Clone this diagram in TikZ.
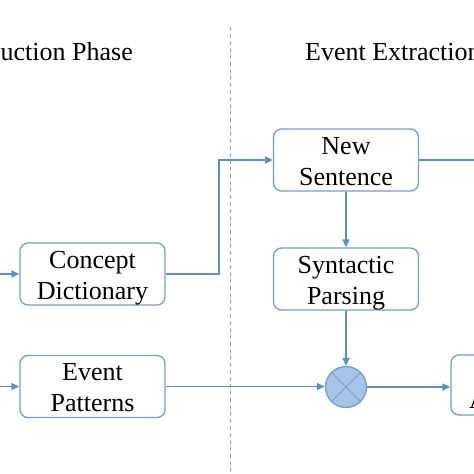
\documentclass[tikz,border=0pt]{standalone}
\usepackage{fontspec}
\setmainfont{Liberation Serif}
\usetikzlibrary{arrows.meta}
\definecolor{lineblue}{HTML}{5A8FCB}
\definecolor{boxblue}{HTML}{6E9ED3}
\definecolor{circfill}{HTML}{A7C3E6}
\definecolor{crossblue}{HTML}{7F9FC8}
\definecolor{dashblue}{HTML}{8FA9C6}
\tikzset{
  procbox/.style={draw=boxblue, line width=1.3pt, rounded corners=8pt, fill=white,
    minimum width=145pt, minimum height=62pt, inner sep=0pt, align=center,
    text height=56pt, text depth=6pt, font=\fontsize{26}{31}\selectfont},
  flow/.style={draw=lineblue, line width=1.3pt, -{Triangle[length=8pt,width=7pt]}},
  plainflow/.style={draw=lineblue, line width=1.3pt},
  header/.style={font=\fontsize{26}{30}\selectfont, inner sep=0pt},
}
\begin{document}
\begin{tikzpicture}[x=1pt,y=-1pt]
\useasboundingbox (0,0) rectangle (474,474);
\clip (0,0) rectangle (474,474);
% divider
\draw[dashblue, line width=1pt, dash pattern=on 4pt off 3pt] (230.5,27) -- (230.5,474);
% headers
\node[header, anchor=base east] (hleft) at (133,60) {uction Phase};
\node[header, anchor=base west] (hright) at (305,60) {Event Extraction};
% boxes
\node[procbox] (cd) at (92.5,274) {Concept\\Dictionary};
\node[procbox] (ep) at (92.5,386.5) {Event\\Patterns};
\node[procbox] (ns) at (346,160) {New\\Sentence};
\node[procbox] (sp) at (346,279) {Syntactic\\Parsing};
\node[circle, draw=boxblue, fill=circfill, line width=1.3pt, minimum size=41pt, inner sep=0pt] (cx) at (346,387) {};
\draw[crossblue, line width=1pt] (cx.45) -- (cx.225) (cx.135) -- (cx.315);
\node[procbox, minimum height=60pt, text height=0pt, text depth=0pt] (rb) at (523.5,385) {};
\node[font=\fontsize{26}{31}\selectfont, inner sep=0pt, anchor=base west] (rbtxt) at (469,408) {A};
% free ends
\coordinate (cdin) at (0,274);
\coordinate (epin) at (0,386.5);
\coordinate (nsout) at (474,160);
\coordinate (bend) at (219,274);
% connectors
\draw[flow] (cdin) -- (cd.west);
\draw[flow] (epin) -- (ep.west);
\draw[flow] (cd.east) -- (bend) |- (ns.west);
\draw[plainflow] (ns.east) -- (nsout);
\draw[flow] (ns.south) -- (sp.north);
\draw[flow] (sp.south) -- (cx.north);
\draw[flow] (ep.east) -- (ep.east -| cx.west);
\draw[flow] (cx.east) -- (cx.east -| rb.west);
\end{tikzpicture}
\end{document}
